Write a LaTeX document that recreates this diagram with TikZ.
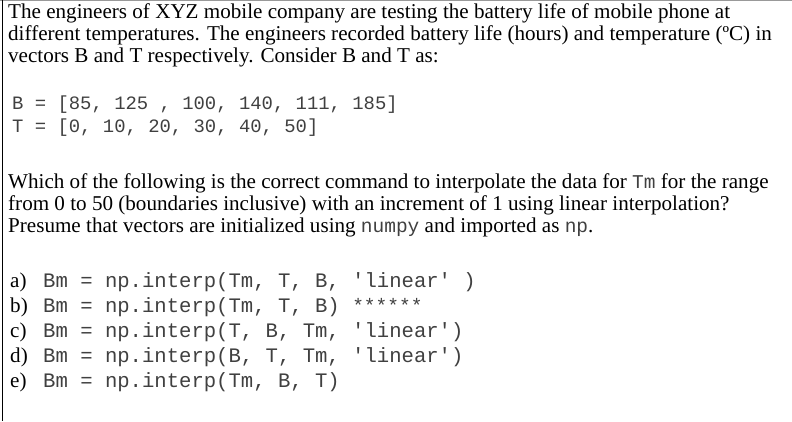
\documentclass[tikz,border=0pt]{standalone}
\usepackage{fontspec}
\setmainfont{Liberation Serif}
\setmonofont{Liberation Mono}
\begin{document}
\begin{tikzpicture}[x=1pt,y=1pt,
  txt/.style={anchor=base west,inner sep=0pt,font=\fontsize{21.1}{22}\selectfont},
  code/.style={anchor=base west,inner sep=0pt,font=\fontsize{18.9}{22}\ttfamily,text=black!75},
  opt/.style={anchor=base west,inner sep=0pt,font=\fontsize{21.1}{22}\selectfont},
  icode/.style={font=\fontsize{20.6}{22}\ttfamily,text=black!75}]
\useasboundingbox (0,0) rectangle (792,-421);
\draw[black!40,line width=1pt] (0,-0.5) -- (792,-0.5);
\draw[black,line width=1pt] (2.5,0) -- (2.5,-421);
\newcommand{\ic}[1]{{\fontsize{19.5}{22}\ttfamily\color{black!75}#1}}
\node[txt] (l1) at (8,-18) {The engineers of XYZ mobile company are testing the battery life of mobile phone at};
\node[txt] (l2) at (8,-40) {different temperatures. The engineers recorded battery life (hours) and temperature (ºC) in};
\node[txt] (l3) at (8,-62) {vectors B and T respectively. Consider B and T as:};
\node[code] (cb) at (12,-109) {B = [85, 125 , 100, 140, 111, 185]};
\node[code] (ct) at (12,-132) {T = [0, 10, 20, 30, 40, 50]};
\node[txt] (p1) at (8,-188) {Which of the following is the correct command to interpolate the data for \ic{Tm} for the range};
\node[txt] (p2) at (8,-210) {from 0 to 50 (boundaries inclusive) with an increment of 1 using linear interpolation?};
\node[txt] (p3) at (8,-232) {Presume that vectors are initialized using \ic{numpy} and imported as \ic{np}.};
\foreach \l/\c/\y [count=\i] in {a/{Bm = np.interp(Tm, T, B, 'linear' )}/-287,
  b/{Bm = np.interp(Tm, T, B) {\fontsize{19.5}{12}\selectfont ******}}/-312,
  c/{Bm = np.interp(T, B, Tm, 'linear')}/-337,
  d/{Bm = np.interp(B, T, Tm, 'linear')}/-362,
  e/{Bm = np.interp(Tm, B, T)}/-387}{
  \node[opt] (o\i) at (10,\y) {\l)};
  \node[anchor=base west,inner sep=0pt,icode] (c\i) at (43,\y) {\c};
}
\end{tikzpicture}
\end{document}
